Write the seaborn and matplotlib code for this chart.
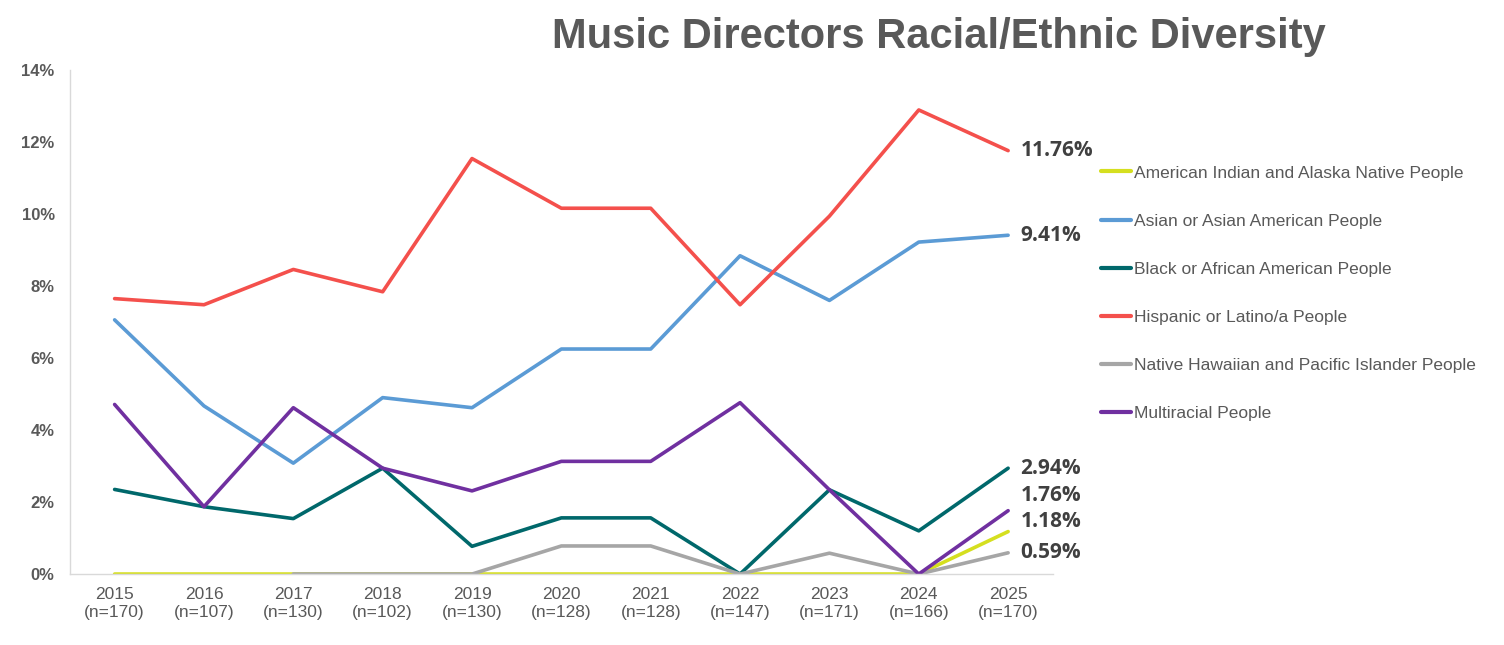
import pandas as pd
import matplotlib.pyplot as plt
import seaborn as sns

years = [2015, 2016, 2017, 2018, 2019, 2020, 2021, 2022, 2023, 2024, 2025]
sample_sizes = [170, 107, 130, 102, 130, 128, 128, 147, 171, 166, 170]

american_indian = [0, 0, 0, 0, 0, 0, 0, 0, 0, 0, 1.18]
asian = [7.06, 4.67, 3.08, 4.90, 4.62, 6.25, 6.25, 8.84, 7.60, 9.22, 9.41]
black = [2.35, 1.87, 1.54, 2.94, 0.77, 1.56, 1.56, 0, 2.34, 1.20, 2.94]
hispanic = [7.65, 7.48, 8.46, 7.84, 11.54, 10.16, 10.16, 7.48, 9.94, 12.89, 11.76]
native_hawaiian = [None, None, 0, 0, 0, 0.78, 0.78, 0, 0.58, 0, 0.59]
multiracial = [4.71, 1.87, 4.62, 2.94, 2.31, 3.13, 3.13, 4.76, 2.34, 0, 1.76]

groups = {
    "American Indian and Alaska Native People": american_indian,
    "Asian or Asian American People": asian,
    "Black or African American People": black,
    "Hispanic or Latino/a People": hispanic,
    "Native Hawaiian and Pacific Islander People": native_hawaiian,
    "Multiracial People": multiracial,
}
colors = ["#D5DF1F", "#5B9BD5", "#00686B", "#F4504C", "#A6A6A6", "#7030A0"]

# end labels: which series, and a small vertical nudge so they don't collide
end_labels = ["Hispanic or Latino/a People", "Asian or Asian American People",
              "Black or African American People", "Multiracial People",
              "American Indian and Alaska Native People",
              "Native Hawaiian and Pacific Islander People"]
label_nudge = [0, 0, 0, 0.43, 0.29, 0]

rows = []
for name, vals in groups.items():
    for yr, v in zip(years, vals):
        rows.append({"year": yr, "group": name, "pct": v})
df = pd.DataFrame(rows).dropna()

sns.set_theme(style="white")
plt.rcParams["font.family"] = ["Liberation Sans", "DejaVu Sans"]

fig = plt.figure(figsize=(15.04, 6.45), dpi=100)
ax = fig.add_axes([0.0465, 0.110, 0.6535, 0.7815])

sns.lineplot(data=df, x="year", y="pct", hue="group",
             hue_order=list(groups.keys()), palette=colors,
             estimator=None, linewidth=2.6, ax=ax)

ax.set_xlim(2014.5, 2025.5)
ax.set_ylim(0, 14)
ax.set_yticks(range(0, 15, 2))
ax.set_yticklabels([f"{t}%" for t in range(0, 15, 2)],
                   fontsize=12, fontweight="bold", color="#595959")
ax.set_xticks(years)
ax.set_xticklabels([f"{y}\n(n={n})" for y, n in zip(years, sample_sizes)],
                   fontsize=12.5, color="#595959", linespacing=1.3)
ax.tick_params(axis="y", length=0, pad=11)
ax.tick_params(axis="x", length=0, pad=9)
ax.set_xlabel("")
ax.set_ylabel("")

for side in ["top", "right"]:
    ax.spines[side].set_visible(False)
for side in ["left", "bottom"]:
    ax.spines[side].set_color("#D9D9D9")
    ax.spines[side].set_linewidth(1)

for name, nudge in zip(end_labels, label_nudge):
    val = groups[name][-1]
    ax.annotate(f"{val:.2f}%", xy=(years[-1], val + nudge),
                xytext=(9, 0), textcoords="offset points",
                va="center", ha="left", fontsize=15, fontweight="bold",
                color="#404040", family=["Open Sans", "DejaVu Sans"],
                annotation_clip=False)

leg = ax.legend(loc="upper left", bbox_to_anchor=(0.7265, 0.757),
                bbox_transform=fig.transFigure, frameon=False,
                fontsize=12.5, handlelength=1.7, handletextpad=0.2,
                labelspacing=1.9, borderpad=0)
for t in leg.get_texts():
    t.set_color("#595959")
for h in leg.get_lines():
    h.set_linewidth(3)

fig.text(0.624, 0.926, "Music Directors Racial/Ethnic Diversity",
         ha="center", va="baseline", fontsize=30, fontweight="bold",
         color="#595959")

fig.savefig("out.png", dpi=100)
